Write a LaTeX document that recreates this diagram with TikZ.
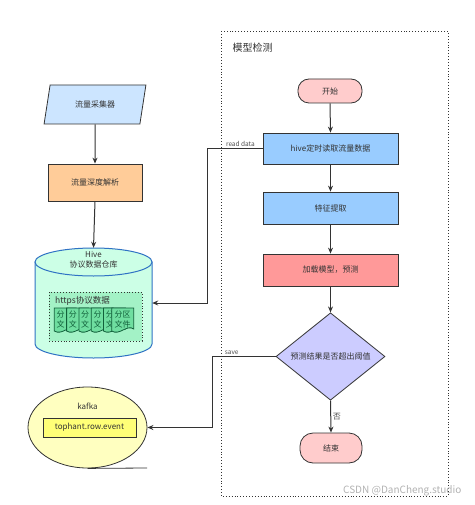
\documentclass[tikz,border=0pt]{standalone}
\usepackage{fontspec}
\setmainfont{Noto Sans CJK SC}
\usepackage{xcolor}
\usepackage{tikz}
\usetikzlibrary{shapes.geometric,arrows.meta}
\definecolor{inblue}{HTML}{CCE5FF}
\definecolor{parseorange}{HTML}{FFCC99}
\definecolor{hivemint}{HTML}{CCFFE6}
\definecolor{hiveblue}{HTML}{2F72C4}
\definecolor{innergreen}{HTML}{A3F2C6}
\definecolor{filegreen}{HTML}{6FDEA0}
\definecolor{filedark}{HTML}{11603A}
\definecolor{kafkayellow}{HTML}{FFFFC0}
\definecolor{topicyellow}{HTML}{FFFF77}
\definecolor{startpink}{HTML}{FFCCCC}
\definecolor{stepblue}{HTML}{99CCFF}
\definecolor{loadred}{HTML}{FF9999}
\definecolor{decidepurple}{HTML}{CCCCFF}
\definecolor{lineg}{HTML}{333333}

\begin{document}
\begin{tikzpicture}[x=1pt,y=-1pt,
  font=\fontsize{8}{9.5}\selectfont, text=lineg,
  box/.style={draw=lineg, line width=0.8pt, minimum width=135pt, minimum height=31pt, inner sep=0pt},
  term/.style={box, rounded corners=11pt, fill=startpink, minimum width=64pt, minimum height=24pt},
  arr/.style={draw=lineg, line width=1pt, -{Stealth[length=6pt,width=5pt]}},
  lbl/.style={font=\fontsize{6.5}{7}\selectfont, text=black!70, inner sep=1.5pt},
  filetxt/.style={font=\fontsize{8}{10.5}\selectfont, align=center, text=filedark, inner sep=0pt},
  filebody/.style={fill=filegreen, draw=filedark, line width=0.8pt}]

\useasboundingbox (0,0) rectangle (474,505);

% Model detection frame
\draw[lineg, dotted, line width=0.9pt] (221,31) rectangle (448,496);
\node[anchor=west, font=\fontsize{10}{12}\selectfont] (title) at (229,48) {模型检测};

% Left column: collection
\node[trapezium, trapezium left angle=70, trapezium right angle=110, trapezium stretches=true,
      draw=lineg, line width=0.8pt, fill=inblue, minimum width=102pt, minimum height=39pt, inner sep=0pt]
      (collector) at (95,104.5) {流量采集器};
\node[box, fill=parseorange, minimum width=94pt, minimum height=37pt] (parse) at (95,182.5) {流量深度解析};

% Hive store (cylinder)
\node[minimum width=117pt, minimum height=110pt, inner sep=0pt] (hivedb) at (93.5,303) {};
\filldraw[fill=hivemint, draw=hiveblue, line width=1pt]
  (35,262) -- (35,344) arc[start angle=180, end angle=360, x radius=58.5pt, y radius=14pt] -- (152,262) -- cycle;
\filldraw[fill=hivemint, draw=hiveblue, line width=1pt] (93.5,262) ellipse [x radius=58.5pt, y radius=14pt];
\node[align=center, font=\fontsize{8}{10}\selectfont] (hivetxt) at (93.5,260) {Hive\\协议数据仓库};

% https data with partition files
\node[draw=lineg, dotted, line width=0.9pt, fill=innergreen, minimum width=93pt, minimum height=49pt, inner sep=0pt]
  (https) at (95.5,316.5) {};
\node[anchor=west, inner sep=0pt, font=\fontsize{8.5}{10}\selectfont] (httpstxt) at (55,301) {https协议数据};
\foreach \x [count=\i] in {54.3,66.6,78.9,91.2,103.5} {
  \filldraw[filebody]
    (\x,308) -- (\x+22,308) -- (\x+22,329) .. controls (\x+15,324) and (\x+8,336) .. (\x,331) -- cycle;
  \node[filetxt] (f\i) at (\x+6.3,319.5) {分\\文};
}
\filldraw[filebody]
  (111.7,308) -- (133.7,308) -- (133.7,329) .. controls (126.7,324) and (119.7,336) .. (111.7,331) -- cycle;
\node[filetxt] (f6) at (122.7,319.5) {分区\\文件};

% Kafka
\node[ellipse, draw=lineg, line width=0.8pt, fill=kafkayellow, minimum width=119pt, minimum height=81pt, inner sep=0pt]
  (kafka) at (87.5,427.5) {};
\coordinate (tail) at (147,468);
\draw[lineg, line width=0.8pt] (kafka.south) -- (tail);
\node (kafkatxt) at (87.5,406) {kafka};
\node[box, fill=topicyellow, minimum width=93pt, minimum height=19pt] (topic) at (89.5,427.5) {tophant.row.event};

% Right column: flow
\node[term] (start) at (330,91) {开始};
\node[box, fill=stepblue] (read) at (330.5,148.5) {hive定时读取流量数据};
\node[box, fill=stepblue, minimum height=32pt] (feature) at (330.5,208) {特征提取};
\node[box, fill=loadred, minimum height=32pt] (predict) at (330.5,270) {加载模型，预测};
\node[diamond, draw=lineg, line width=0.8pt, fill=decidepurple, minimum width=109pt, minimum height=77pt, inner sep=0pt]
  (judge) at (330.5,356.5) {预测结果是否超出阈值};
\node[term, minimum width=62pt, minimum height=30pt, rounded corners=13pt] (stop) at (331,448) {结束};

% Connectors
\draw[arr] (collector.south) -- (parse.north);
\draw[arr] (parse.south) -- (hivedb.north);
\draw[arr] (start.south) -- (read.north);
\draw[arr] (read.south) -- (feature.north);
\draw[arr] (feature.south) -- (predict.north);
\draw[arr] (predict.south) -- (judge.north);
\draw[arr] (judge.south) -- node[right, lbl, font=\fontsize{8}{9}\selectfont] {否} (stop.north);

\coordinate (rdturn) at (207,0 |- read.west);
\draw[arr] (read.west) -- node[above, pos=0.4, lbl] {read data} (rdturn) |- (hivedb.east);
\coordinate (svturn) at (212,0 |- judge.west);
\draw[arr] (judge.west) -- node[above, pos=0.69, lbl] {save} (svturn) |- (kafka.east);

% Watermark
\node[anchor=east, font=\fontsize{10}{12}\selectfont, text=black!30] (mark) at (465,491) {CSDN @DanCheng.studio};

\end{tikzpicture}
\end{document}
